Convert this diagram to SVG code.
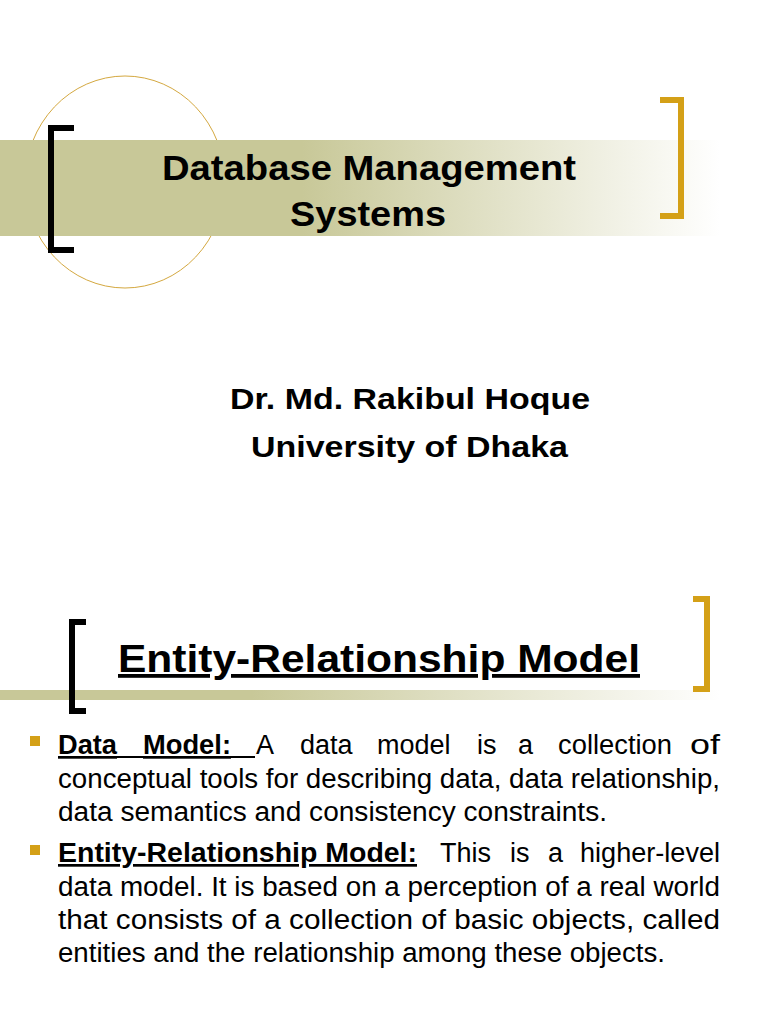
<svg xmlns="http://www.w3.org/2000/svg" width="768" height="1024" viewBox="0 0 768 1024">
<style>
text{font-family:"Liberation Sans",Arial,sans-serif;fill:#000}
.b{font-weight:bold}
.t{font-size:27px}
.u{text-decoration:underline}
.gold{fill:none;stroke:#d4a017;stroke-width:6}
.blk{fill:none;stroke:#000;stroke-width:6}
</style>
<defs>
<linearGradient id="g1" x1="0" x2="720" y1="0" y2="0" gradientUnits="userSpaceOnUse">
<stop offset="0" stop-color="#c8c898"/><stop offset="0.42" stop-color="#c8c898"/><stop offset="1" stop-color="#ffffff"/>
</linearGradient>
<linearGradient id="g2" x1="0" x2="720" y1="0" y2="0" gradientUnits="userSpaceOnUse">
<stop offset="0" stop-color="#c8c898"/><stop offset="0.35" stop-color="#c8c898"/><stop offset="1" stop-color="#ffffff"/>
</linearGradient>
</defs>
<rect width="768" height="1024" fill="#fff"/>
<g id="slide1">
<ellipse cx="125" cy="182" rx="100" ry="106" fill="none" stroke="#d4a840" stroke-width="1"/>
<rect x="0" y="140" width="722" height="96" fill="url(#g1)"/>
<path class="blk" d="M74 128H51V250H74"/>
<path class="gold" d="M660 100H681V216H660"/>
<text class="b" x="162" y="180" font-size="35" textLength="414" lengthAdjust="spacingAndGlyphs">Database Management</text>
<text class="b" x="290" y="226" font-size="35" textLength="156" lengthAdjust="spacingAndGlyphs">Systems</text>
<text class="b" x="230" y="409" font-size="30" textLength="360" lengthAdjust="spacingAndGlyphs">Dr. Md. Rakibul Hoque</text>
<text class="b" x="251" y="457" font-size="30" textLength="317" lengthAdjust="spacingAndGlyphs">University of Dhaka</text>
</g>
<g id="slide2">
<rect x="0" y="690" width="722" height="10" fill="url(#g2)"/>
<path class="blk" d="M86 622H72V711H86"/>
<path class="gold" d="M693 599H707V689H693"/>
<text class="b u" x="118" y="672" font-size="38" textLength="522" lengthAdjust="spacingAndGlyphs">Entity-Relationship Model</text>
<rect x="30" y="736" width="10" height="10" fill="#d4a017"/>
<rect x="30" y="845" width="10" height="10" fill="#d4a017"/>
<g class="t">
<text class="b u" x="58" y="754" textLength="59" lengthAdjust="spacingAndGlyphs">Data</text>
<rect x="117" y="756" width="138" height="2" fill="#000"/>
<text class="b u" x="143" y="754" textLength="88" lengthAdjust="spacingAndGlyphs">Model:</text>
<text x="256" y="754">A</text>
<text x="300" y="754">data</text>
<text x="377" y="754">model</text>
<text x="477" y="754">is</text>
<text x="518" y="754">a</text>
<text x="558" y="754" textLength="114" lengthAdjust="spacingAndGlyphs">collection</text>
<text x="690" y="754" textLength="30" lengthAdjust="spacingAndGlyphs">of</text>
<text x="58" y="788" textLength="662" lengthAdjust="spacingAndGlyphs">conceptual tools for describing data, data relationship,</text>
<text x="58" y="821" textLength="549" lengthAdjust="spacingAndGlyphs">data semantics and consistency constraints.</text>
<text class="b u" x="58" y="862" textLength="359" lengthAdjust="spacingAndGlyphs">Entity-Relationship Model:</text>
<text x="440" y="862">This</text>
<text x="510" y="862">is</text>
<text x="548" y="862">a</text>
<text x="580" y="862" textLength="140" lengthAdjust="spacingAndGlyphs">higher-level</text>
<text x="58" y="896" textLength="662" lengthAdjust="spacingAndGlyphs">data model. It is based on a perception of a real world</text>
<text x="58" y="929" textLength="662" lengthAdjust="spacingAndGlyphs">that consists of a collection of basic objects, called</text>
<text x="58" y="962" textLength="607" lengthAdjust="spacingAndGlyphs">entities and the relationship among these objects.</text>
</g>
</g>
</svg>
